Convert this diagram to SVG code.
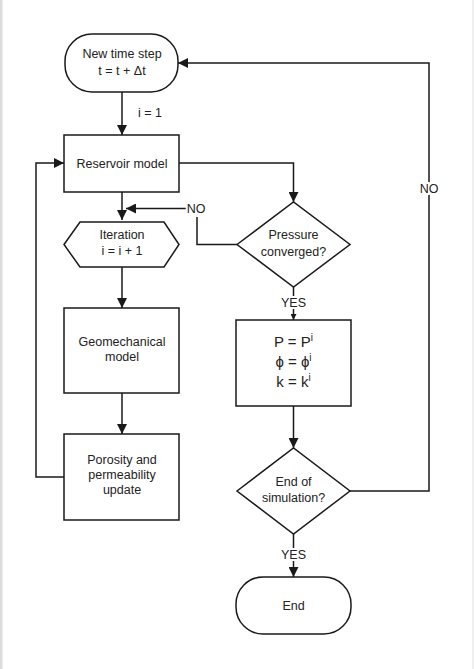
<svg xmlns="http://www.w3.org/2000/svg" width="474" height="669" viewBox="0 0 474 669">
<style>
.shape{fill:#fff;stroke:#1a1a1a;stroke-width:1.5}
.lbl{font-family:"Liberation Sans",Arial,sans-serif;font-size:12.5px;fill:#222;text-anchor:middle}
.eq{font-family:"Liberation Sans",Arial,sans-serif;font-size:15px;fill:#222;text-anchor:middle}
.conn path{fill:none;stroke:#1a1a1a;stroke-width:1.5}
.tag{font-family:"Liberation Sans",Arial,sans-serif;font-size:12.5px;fill:#222;text-anchor:middle;stroke:#fff;stroke-width:4;paint-order:stroke fill}
</style>
<defs>
<marker id="ah" markerUnits="userSpaceOnUse" markerWidth="10" markerHeight="10" viewBox="0 0 10 10" refX="10" refY="5" orient="auto">
<path d="M0,0 L10,5 L0,10 z" fill="#1a1a1a"/>
</marker>
<marker id="ahs" markerUnits="userSpaceOnUse" markerWidth="6" markerHeight="6" viewBox="0 0 10 10" refX="10" refY="5" orient="auto">
<path d="M0,0 L10,5 L0,10 z" fill="#1a1a1a"/>
</marker>
</defs>
<rect x="0" y="0" width="474" height="669" fill="#fff"/>
<rect x="0" y="0" width="2.5" height="669" fill="#dcdcdc"/>
<rect x="472" y="0" width="2" height="669" fill="#efefef"/>

<g class="conn" id="connectors">
<path d="M122,92 V135" marker-end="url(#ah)"/>
<path d="M179,163 H293.5 V202" marker-end="url(#ah)"/>
<path d="M122,192 V220" marker-end="url(#ah)"/>
<path d="M237,244.5 H197 V217"/>
<path d="M187,208.5 H126" marker-end="url(#ah)"/>
<path d="M122,267 V308" marker-end="url(#ah)"/>
<path d="M122,393 V434" marker-end="url(#ah)"/>
<path d="M64,477 H36 V163 H64" marker-end="url(#ah)"/>
<path d="M293.5,287 V320" marker-end="url(#ahs)"/>
<path d="M293.5,406 V448" marker-end="url(#ah)"/>
<path d="M350,491 H429 V63 H178" marker-end="url(#ah)"/>
<path d="M293.5,534 V577" marker-end="url(#ah)"/>
<text class="tag" x="150" y="117">i = 1</text>
<text class="tag" x="196" y="213">NO</text>
<text class="tag" x="293.5" y="307">YES</text>
<text class="tag" x="429" y="193">NO</text>
<text class="tag" x="293.5" y="559">YES</text>
</g>

<g id="start">
<rect class="shape" x="65" y="34" width="113" height="58" rx="27" ry="27"/>
<text class="lbl" x="122" y="58">New time step</text>
<text class="lbl" x="122" y="75">t = t + Δt</text>
</g>

<g id="reservoir">
<rect class="shape" x="64" y="135" width="115" height="57"/>
<text class="lbl" x="122" y="167.5">Reservoir model</text>
</g>

<g id="iteration">
<polygon class="shape" points="64,244.5 80,222 164,222 179,244.5 164,267 80,267"/>
<text class="lbl" x="122" y="239">Iteration</text>
<text class="lbl" x="122" y="255">i = i + 1</text>
</g>

<g id="geomechanical">
<rect class="shape" x="64" y="308" width="115" height="85"/>
<text class="lbl" x="122" y="346">Geomechanical</text>
<text class="lbl" x="122" y="361">model</text>
</g>

<g id="porosity">
<rect class="shape" x="64" y="434" width="115" height="86"/>
<text class="lbl" x="122" y="464">Porosity and</text>
<text class="lbl" x="122" y="479">permeability</text>
<text class="lbl" x="122" y="494">update</text>
</g>

<g id="pressure">
<polygon class="shape" points="237,244.5 293.5,202 350,244.5 293.5,287"/>
<text class="lbl" x="293.5" y="239">Pressure</text>
<text class="lbl" x="293.5" y="256">converged?</text>
</g>

<g id="update">
<rect class="shape" x="236" y="320" width="115" height="86"/>
<text class="eq" x="293.5" y="347">P = P<tspan dy="-6" font-size="10">i</tspan></text>
<text class="eq" x="293.5" y="367">ϕ = ϕ<tspan dy="-6" font-size="10">i</tspan></text>
<text class="eq" x="293.5" y="387">k = k<tspan dy="-6" font-size="10">i</tspan></text>
</g>

<g id="endcheck">
<polygon class="shape" points="237,491 293.5,448 350,491 293.5,534"/>
<text class="lbl" x="293.5" y="486">End of</text>
<text class="lbl" x="293.5" y="502">simulation?</text>
</g>

<g id="end">
<rect class="shape" x="236" y="577" width="115" height="57" rx="27" ry="27"/>
<text class="lbl" x="293.5" y="610">End</text>
</g>
</svg>
